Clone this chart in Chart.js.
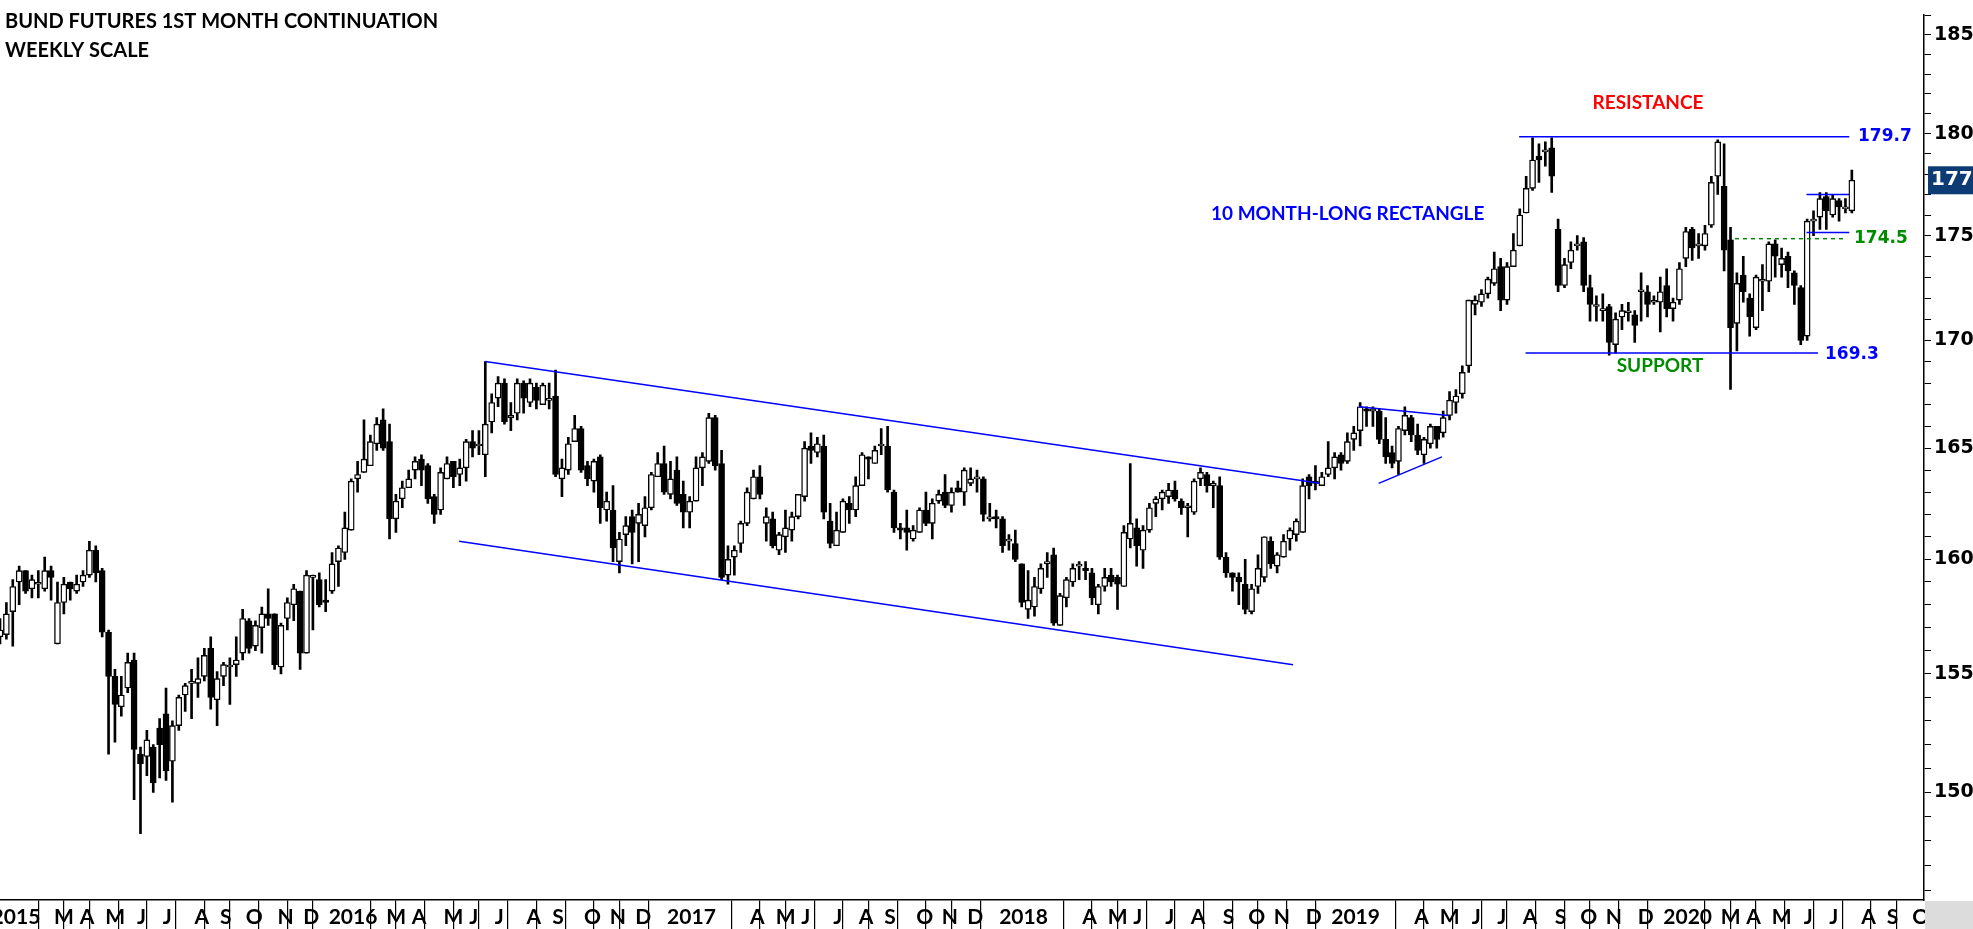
<!DOCTYPE html>
<html lang="en">
<head>
<meta charset="UTF-8">
<title>Bund futures weekly</title>
<script src="https://cdn.jsdelivr.net/npm/chart.js@4.4.0/dist/chart.umd.min.js"></script>
<style>
  body { margin: 0; background: #fff; }
  canvas { display: block; }
</style>
</head>
<body>
<canvas id="bund" width="1973" height="929"></canvas>
<script>
// weekly candles [open, high, low, close], first candle = week ending 9 Jan 2015
const ohlc2015 = [
  [156.6,157.4,156.3,156.9],[156.7,158.1,156.5,157.6],[157.7,159.1,156.2,158.8],[159.0,159.7,158.0,159.5],
  [159.5,159.5,158.5,158.6],[158.7,159.3,158.3,159.1],[158.9,159.5,158.3,158.9],[158.7,160.1,158.6,159.5],
  [159.5,159.7,158.2,159.2],[156.3,159.0,156.3,158.1],[158.1,159.2,157.6,158.9],[159.0,159.0,158.2,158.7],
  [158.6,159.3,158.5,158.9],[159.0,159.5,158.8,159.3],[159.3,160.8,159.2,160.4],[160.4,160.6,159.0,159.4],
  [159.5,159.6,156.6,156.8],[156.8,156.9,151.6,154.9],[154.9,155.2,152.1,153.7],[153.6,154.9,153.2,154.1],
  [154.4,155.9,154.2,155.5],[155.6,155.9,149.7,151.8],[151.6,151.9,148.3,151.2],[151.5,152.6,150.7,152.2],
  [151.9,152.0,150.0,150.4],[152.7,153.1,150.6,152.0],[153.3,154.4,150.5,150.9],[151.3,153.0,149.6,152.8],
  [152.8,154.1,152.6,154.0],[154.1,154.6,153.4,154.5],[154.6,155.2,153.1,154.6],[154.6,155.7,154.0,154.8],
  [154.9,156.1,154.7,155.8],[156.1,156.6,153.5,154.0],[153.9,155.1,152.8,154.8],[154.9,155.5,154.5,155.4],
  [155.3,155.7,153.7,155.3],[155.4,156.6,154.9,155.6],[155.9,157.8,155.6,157.4],[157.3,157.4,155.9,156.1],
  [156.2,157.3,156.0,157.1],[157.0,157.9,155.9,157.6],[157.6,158.7,157.1,157.4],[157.6,157.6,155.2,155.4],
  [155.3,157.2,155.0,157.1],[157.4,158.3,156.9,158.1],[158.0,158.9,157.3,158.7],[158.6,158.6,155.2,155.9],
  [155.9,159.5,155.9,159.3],[159.2,159.3,156.9,159.2],[159.1,159.4,157.9,158.0]
];
const ohlc2016 = [
  [158.2,159.1,157.7,158.1],[158.6,160.3,158.5,159.8],[159.9,160.6,158.8,160.5],[160.3,162.1,160.0,161.4],
  [161.3,163.6,161.3,163.5],[163.6,164.4,163.0,163.8],[163.9,166.3,163.9,164.5],[164.2,165.6,164.2,165.3],
  [165.2,166.4,164.9,166.1],[166.3,166.8,164.9,165.0],[165.3,166.1,160.9,161.8],[161.8,162.9,161.2,162.6],
  [162.7,163.5,162.3,163.2],[163.2,164.0,163.2,163.6],[164.0,164.6,163.6,164.4],[164.5,164.7,163.3,164.0],
  [164.2,164.3,162.5,162.7],[162.8,162.9,161.6,162.0],[162.2,164.1,162.0,163.9],[163.6,164.6,163.6,164.3],
  [164.4,164.4,163.2,163.7],[163.8,164.5,163.3,164.1],[164.1,165.4,163.5,165.3],[165.3,165.8,164.6,165.0],
  [165.1,165.8,164.7,165.1],[164.7,169.0,163.7,166.1],[166.2,167.5,165.7,167.1],[167.3,168.3,166.9,168.0],
  [168.0,168.2,166.1,166.2],[166.4,167.1,165.8,166.5],[166.6,168.2,166.3,168.0],[168.0,168.1,166.6,167.3],
  [167.1,168.2,166.9,168.0],[167.8,168.0,166.8,167.2],[167.0,168.0,167.0,167.9],[167.2,168.0,166.8,167.2],
  [167.4,168.6,163.7,163.8],[163.6,164.5,162.8,164.1],[164.0,165.5,163.8,165.2],[165.3,166.5,165.3,165.9],
  [165.9,166.0,163.9,164.0],[164.2,164.4,163.3,163.6],[163.5,164.5,163.0,164.4],[164.6,164.7,161.6,162.3],
  [162.2,163.0,161.7,162.6],[162.2,163.3,159.9,160.5],[159.9,161.2,159.4,160.9],[161.1,161.9,160.6,161.5],
  [161.9,162.2,159.8,161.2],[161.6,162.5,159.9,162.0],[161.5,162.8,161.0,162.3],[162.3,163.9,162.2,163.8],
  [163.7,164.8,163.7,164.3]
];
const ohlc2017 = [
  [164.3,165.1,162.9,163.0],[162.9,164.4,162.7,163.6],[164.0,164.6,162.4,162.5],[162.9,163.5,161.4,162.1],
  [162.1,162.8,161.4,162.6],[162.6,164.6,162.6,164.1],[164.1,164.8,163.3,164.6],[164.4,166.6,164.3,166.4],
  [166.4,166.5,164.0,164.2],[164.3,164.9,159.1,159.2],[159.3,160.6,158.9,160.0],[160.1,160.6,159.3,160.4],
  [160.7,161.7,160.3,161.6],[161.6,163.2,161.5,163.0],[162.7,164.0,162.7,163.7],[163.7,164.2,162.7,162.9],
  [161.6,162.3,160.8,161.9],[161.8,162.1,160.5,160.6],[160.4,161.2,160.2,161.1],[161.0,162.2,160.3,161.4],
  [161.3,162.1,160.8,161.9],[161.9,162.9,161.8,162.9],[162.8,165.3,162.6,165.0],[165.1,165.7,164.3,164.9],
  [164.8,165.5,164.6,165.2],[165.1,165.6,161.8,162.1],[161.7,162.5,160.5,160.7],[160.6,162.1,160.6,161.3],
  [161.2,162.7,161.2,162.6],[162.5,162.8,161.6,162.2],[162.2,163.7,161.9,163.3],[163.3,164.8,163.3,164.7],
  [164.6,164.6,163.6,164.5],[164.3,165.1,164.3,164.9],[165.1,165.9,164.7,165.1],[165.1,166.0,163.0,163.1],
  [163.0,163.1,161.2,161.4],[161.4,161.6,160.9,161.3],[161.4,162.2,160.4,161.2],[160.9,161.5,160.8,161.3],
  [161.2,162.3,161.2,162.2],[162.2,163.0,161.5,161.6],[161.6,162.7,160.9,162.5],[162.6,163.1,162.5,162.9],
  [163.0,163.8,162.3,162.4],[162.4,163.2,162.1,163.0],[163.2,163.5,163.0,163.0],[163.0,164.1,162.4,164.0],
  [163.4,164.1,163.3,163.6],[163.6,164.0,163.0,163.6],[163.6,163.7,161.7,162.0],[161.8,162.5,161.7,161.8]
];
const ohlc2018 = [
  [161.9,162.2,161.4,161.8],[161.8,161.9,160.3,160.6],[160.8,161.1,160.4,160.9],[160.7,161.3,159.9,160.0],
  [159.8,159.8,157.9,158.1],[157.8,159.5,157.4,158.2],[157.9,159.2,157.5,158.8],[158.7,159.8,158.5,159.6],
  [159.8,160.3,159.2,159.9],[160.2,160.5,157.1,157.2],[157.1,158.5,157.1,158.4],[158.3,159.2,157.9,159.1],
  [159.0,159.8,158.8,159.6],[159.7,159.9,159.1,159.7],[159.6,159.9,159.1,159.5],[159.4,159.6,158.0,158.3],
  [158.0,158.9,157.6,158.8],[158.8,159.6,158.6,159.2],[159.3,159.6,158.8,159.0],[159.2,159.3,157.8,158.9],
  [158.8,161.5,158.8,161.2],[160.9,164.3,160.5,161.6],[161.4,161.8,159.7,160.6],[160.4,161.5,159.6,161.3],
  [161.3,162.5,161.2,162.3],[162.5,162.8,161.9,162.7],[162.7,163.1,162.2,163.0],[162.8,163.4,162.5,163.1],
  [163.1,163.5,162.6,162.7],[162.6,162.7,162.0,162.3],[162.3,162.5,161.0,162.3],[162.1,163.6,162.0,163.5],
  [163.6,164.1,163.3,163.9],[163.8,163.9,163.0,163.3],[163.3,163.5,162.3,163.4],[163.3,163.7,160.0,160.1],
  [160.1,160.3,159.2,159.4],[159.4,159.4,158.6,159.2],[159.2,159.4,158.0,159.0],[158.9,160.0,157.6,157.8],
  [157.7,158.9,157.6,158.7],[158.8,160.2,158.5,159.6],[159.2,161.0,159.0,161.0],[160.8,161.0,159.6,159.8],
  [159.7,160.3,159.4,160.2],[160.1,161.1,160.1,160.8],[160.9,161.4,160.4,161.3],[161.1,161.8,160.8,161.7],
  [161.2,163.6,161.2,163.3],[163.7,163.8,162.7,163.3],[163.4,164.2,163.1,163.5],[163.3,163.9,163.3,163.7]
];
const ohlc2019 = [
  [163.8,165.3,163.7,164.1],[164.1,164.8,163.6,164.6],[164.7,164.8,164.0,164.3],[164.4,165.7,164.3,165.3],
  [165.4,166.0,164.9,165.7],[165.8,167.1,165.1,166.9],[166.8,166.9,166.0,166.7],[166.7,166.9,166.0,166.8],
  [166.7,166.8,165.2,165.4],[165.4,166.4,164.3,164.6],[164.8,165.1,164.1,164.3],[164.4,166.0,163.8,165.9],
  [165.8,166.9,165.6,166.5],[166.4,166.5,165.3,165.6],[165.6,166.1,164.7,164.9],[164.7,165.5,164.3,165.4],
  [165.2,166.1,165.0,166.0],[166.0,166.0,165.0,165.4],[165.7,166.7,165.5,166.4],[166.5,167.6,166.3,167.2],
  [167.1,167.7,166.6,167.4],[167.5,168.8,167.3,168.5],[168.8,171.9,168.5,171.9],[171.7,172.1,171.2,171.9],
  [171.8,172.4,171.6,172.2],[172.2,173.0,172.0,172.9],[172.7,174.2,172.6,173.4],[173.5,173.9,171.4,171.9],
  [171.9,173.7,171.7,173.5],[173.5,175.1,173.5,174.3],[174.5,176.3,174.5,176.0],[176.1,177.9,176.1,177.3],
  [177.3,179.8,177.2,178.7],[178.9,179.5,177.6,178.7],[179.1,179.6,178.4,179.2],[179.3,179.8,177.1,177.9],
  [175.3,175.8,172.3,172.6],[172.6,173.9,172.5,173.6],[173.7,174.7,173.4,174.3],[174.5,175.0,174.3,174.6],
  [174.7,174.9,172.3,172.6],[172.5,173.1,170.9,171.7],[171.6,172.1,170.9,171.6],[171.4,172.2,170.9,171.5],
  [171.6,171.7,169.3,169.9],[169.8,171.3,169.4,171.0],[171.1,171.7,170.5,171.4],[171.3,171.8,170.9,171.3],
  [171.2,171.4,169.9,170.7],[172.3,173.2,170.9,172.3],[172.3,172.6,171.1,171.7],[171.8,172.1,171.7,171.8]
];
const ohlc2020 = [
  [171.8,173.0,170.4,172.3],[172.6,173.4,171.1,171.5],[171.5,172.0,170.9,171.8],[171.9,173.7,171.7,173.4],
  [173.9,175.4,173.5,175.2],[175.3,175.4,173.8,174.4],[174.5,175.1,173.9,174.6],[174.5,175.5,174.3,175.1],
  [175.5,177.9,175.4,177.6],[177.9,179.7,177.0,179.6],[177.4,179.5,173.3,174.3],[174.8,175.4,167.7,170.6],
  [170.8,173.2,169.5,172.7],[173.1,174.0,171.8,172.3],[172.0,172.2,170.2,171.1],[170.6,173.1,170.5,173.0],
  [172.8,173.6,171.4,172.9],[172.8,174.7,172.3,174.6],[174.6,174.8,173.0,174.0],[173.6,174.4,173.0,173.9],
  [174.0,174.2,172.5,173.3],[173.2,173.3,171.7,172.6],[172.5,172.6,169.8,170.0],[170.2,175.8,170.0,175.7],
  [175.7,176.2,175.0,175.8],[175.9,177.1,175.3,176.8],[176.9,177.1,175.3,176.2],[176.0,177.0,175.9,176.8],
  [176.7,176.8,175.7,176.4],[176.3,176.8,176.1,176.3],[176.2,178.2,176.1,177.7]
];

const monthLetters = ['J','F','M','A','M','J','J','A','S','O','N','D'];
const yTicks = [146,147,148,149,150,151,152,153,154,155,156,157,158,159,160,161,162,163,164,165,
  166,167,168,169,170,171,172,173,174,175,176,177,178,179,180,181,182,183,184,185,186];

// annotation levels
const resistance = 179.7;
const support = 169.3;
const breakout = 174.5;

const candles = [].concat(ohlc2015, ohlc2016, ohlc2017, ohlc2018, ohlc2019, ohlc2020);
const wicks = candles.map((c, i) => ({x: i + 1, y: [c[2], c[1]]}));
const bodies = candles.map((c, i) => ({x: i + 1, y: [Math.min(c[0], c[3]), Math.max(c[0], c[3])]}));
const isUp = i => candles[i][3] >= candles[i][0];

// week index of the first weekly bar of a month (bars dated Fridays, bar 1 = 9 Jan 2015)
const origin = Date.UTC(2015, 0, 9);
function firstBarOf(y, m) {
  let d = Date.UTC(y, m, 1);
  while (new Date(d).getUTCDay() !== 5) d += 86400000;
  return 1 + Math.round((d - origin) / (7 * 86400000));
}

const monthTicks = [];
for (let y = 2015; y <= 2020; y++) {
  for (let m = 0; m < 12; m++) {
    const v = firstBarOf(y, m);
    if (v < 2 || v > 302) continue;
    let label = m === 0 ? String(y) : monthLetters[m];
    if (m === 1) label = '';
    if (m === 2 && y >= 2017 && y <= 2019) label = '';
    monthTicks.push({value: v, label: label});
  }
}

const lastClose = candles[candles.length - 1][3];
const axisFont = 'Lato';

const drawings = {
  id: 'drawings',
  afterDraw(chart) {
    const ctx = chart.ctx, xs = chart.scales.x, ys = chart.scales.y;
    const X = v => xs.getPixelForValue(v), Y = v => ys.getPixelForValue(v);
    function line(k1, p1, k2, p2, color, dash) {
      ctx.save();
      ctx.strokeStyle = color; ctx.lineWidth = 1.5;
      ctx.setLineDash(dash || []);
      ctx.beginPath(); ctx.moveTo(X(k1), Y(p1)); ctx.lineTo(X(k2), Y(p2)); ctx.stroke();
      ctx.restore();
    }
    function text(t, x, y, color, font, align) {
      ctx.save();
      ctx.fillStyle = color; ctx.font = font;
      ctx.textAlign = align || 'left'; ctx.textBaseline = 'middle';
      ctx.fillText(t, x, y);
      ctx.restore();
    }
    const blue = '#0000ff', green = '#008c00';
    // falling channel
    line(77, 169.0, 207.7, 163.4, blue);
    line(72.9, 160.8, 203.5, 155.4, blue);
    // small triangle
    line(213.8, 166.9, 227.8, 166.5, blue);
    line(216.9, 163.4, 226.8, 164.6, blue);
    // rectangle
    line(238.9, resistance + 0.15, 290.6, resistance + 0.15, blue);
    line(239.9, support + 0.1, 285.7, support + 0.1, blue);
    line(272.7, breakout + 0.35, 289.7, breakout + 0.35, green, [4, 4]);
    line(283.9, 177.0, 290.6, 177.0, blue);
    line(283.9, 175.15, 290.6, 175.15, blue);

    const lab = 'bold 19px Lato';
    const num = 'bold 17px "DejaVu Sans"';
    text('RESISTANCE', 1648, 103, '#ff0000', lab, 'center');
    text('SUPPORT', 1660, 366, green, lab, 'center');
    text('10 MONTH-LONG RECTANGLE', 1211, 214, blue, 'bold 19px Lato');
    text(resistance.toFixed(1), 1858, Y(resistance + 0.15), blue, num);
    text(support.toFixed(1), 1825, Y(support) - 1, blue, num);
    text(breakout.toFixed(1), 1854, Y(breakout + 0.35), green, num);

    text('BUND FUTURES 1ST MONTH CONTINUATION', 5, 22, '#000', 'bold 20px Lato');
    text('WEEKLY SCALE', 5, 51, '#000', 'bold 20px Lato');

    // first year label sits left of the plotted range
    ctx.save();
    ctx.fillStyle = '#000'; ctx.font = 'bold 21px ' + axisFont;
    ctx.textBaseline = 'top';
    ctx.fillText('2015', X(0) - 2, ys.bottom + 7);
    ctx.restore();

    // last price box
    const yp = Y(lastClose);
    ctx.fillStyle = '#0d3c74';
    ctx.fillRect(1928, yp - 14, 45, 28);
    text(lastClose.toFixed(1), 1931, yp, '#fff', 'bold 20px "DejaVu Sans"');

    // corner box
    ctx.fillStyle = '#dcdcdc';
    ctx.fillRect(xs.right + 1, ys.bottom + 1, 1973 - xs.right, 929 - ys.bottom);
  }
};

new Chart(document.getElementById('bund'), {
  type: 'bar',
  data: {
    datasets: [
      {
        data: wicks, backgroundColor: '#000', barThickness: 2, grouped: false, order: 2, minBarLength: 1
      },
      {
        data: bodies, grouped: false, order: 1, barThickness: 6, minBarLength: 2,
        backgroundColor: ctx => isUp(ctx.dataIndex) ? '#fff' : '#000',
        borderColor: '#000', borderWidth: 1.4, borderSkipped: false
      }
    ]
  },
  options: {
    responsive: false,
    devicePixelRatio: 1,
    animation: false,
    layout: {padding: 0},
    plugins: {legend: {display: false}, tooltip: {enabled: false}},
    scales: {
      x: {
        type: 'linear', min: 1, max: 302.3, offset: false,
        afterFit: s => { s.height = 29; },
        afterBuildTicks: s => { s.ticks = monthTicks.map(t => ({value: t.value})); },
        border: {color: '#000', width: 1.5},
        grid: {
          drawOnChartArea: false, tickLength: 29, lineWidth: 1.2,
          color: c => (c.tick && monthTicks[c.index] && monthTicks[c.index].label) ? '#000' : 'rgba(0,0,0,0)'
        },
        ticks: {
          autoSkip: false, maxRotation: 0, align: 'start', labelOffset: 3, padding: -24,
          color: '#000', font: {family: axisFont, weight: 'bold', size: 21},
          callback: (v, i) => monthTicks[i] ? monthTicks[i].label : ''
        }
      },
      y: {
        type: 'logarithmic', position: 'right', min: 145.6, max: 186.05,
        afterFit: s => { s.width = 49; },
        afterBuildTicks: s => { s.ticks = yTicks.map(v => ({value: v})); },
        border: {color: '#000', width: 1.5},
        grid: {drawOnChartArea: false, tickLength: 7, color: '#000'},
        ticks: {
          autoSkip: false, padding: 3, color: '#000',
          font: {family: '"DejaVu Sans"', weight: 'bold', size: 19},
          callback: v => (v % 5 === 0 ? String(v) : '')
        }
      }
    }
  },
  plugins: [drawings]
});
</script>
</body>
</html>
